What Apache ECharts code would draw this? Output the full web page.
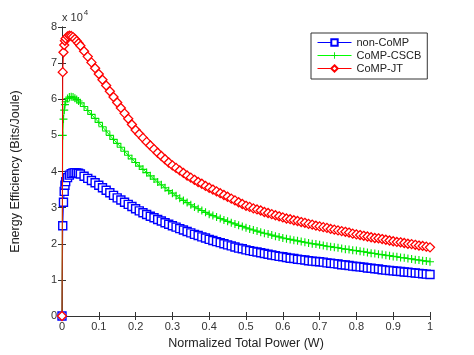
<!DOCTYPE html>
<html>
<head>
<meta charset="utf-8">
<script src="https://cdn.jsdelivr.net/npm/echarts@6/dist/echarts.min.js"></script>
<style>html,body{margin:0;padding:0;background:#fff;}#c{width:474px;height:355px;}</style>
</head>
<body>
<div id="c"></div>
<script>
const xValues = [0, 0.002, 0.004, 0.006, 0.008, 0.01, 0.015, 0.02, 0.025, 0.03, 0.035, 0.04, 0.045,
  0.05, 0.06, 0.07, 0.08, 0.09, 0.10, 0.11, 0.12, 0.13, 0.14, 0.15, 0.16, 0.17, 0.18, 0.19,
  0.20, 0.21, 0.22, 0.23, 0.24, 0.25, 0.26, 0.27, 0.28, 0.29, 0.30, 0.31, 0.32, 0.33, 0.34, 0.35, 0.36, 0.37, 0.38, 0.39,
  0.40, 0.41, 0.42, 0.43, 0.44, 0.45, 0.46, 0.47, 0.48, 0.49, 0.50, 0.51, 0.52, 0.53, 0.54, 0.55, 0.56, 0.57, 0.58, 0.59,
  0.60, 0.61, 0.62, 0.63, 0.64, 0.65, 0.66, 0.67, 0.68, 0.69, 0.70, 0.71, 0.72, 0.73, 0.74, 0.75, 0.76, 0.77, 0.78, 0.79,
  0.80, 0.81, 0.82, 0.83, 0.84, 0.85, 0.86, 0.87, 0.88, 0.89, 0.90, 0.91, 0.92, 0.93, 0.94, 0.95, 0.96, 0.97, 0.98, 0.99, 1.00];

const nonCoMP = [0, 2.5, 3.15, 3.45, 3.62, 3.72, 3.83, 3.9, 3.94, 3.96, 3.97, 3.96, 3.95,
  3.93, 3.87, 3.81, 3.75, 3.69, 3.62, 3.55, 3.48, 3.41, 3.34, 3.27, 3.21, 3.15, 3.09, 3.03,
  2.97, 2.91, 2.86, 2.81, 2.76, 2.72, 2.67, 2.63, 2.58, 2.54, 2.50, 2.46, 2.42, 2.38, 2.34, 2.30, 2.26, 2.23, 2.19, 2.16,
  2.12, 2.09, 2.06, 2.03, 2.00, 1.97, 1.94, 1.91, 1.88, 1.86, 1.83, 1.81, 1.79, 1.77, 1.75, 1.73, 1.71, 1.69, 1.67, 1.65,
  1.64, 1.62, 1.60, 1.59, 1.57, 1.56, 1.55, 1.53, 1.52, 1.51, 1.50, 1.49, 1.47, 1.46, 1.45, 1.44, 1.42, 1.41, 1.40, 1.38,
  1.37, 1.36, 1.35, 1.33, 1.32, 1.31, 1.30, 1.28, 1.27, 1.26, 1.25, 1.24, 1.23, 1.22, 1.21, 1.20, 1.19, 1.18, 1.17, 1.16, 1.15];

const coMPCSCB = [0, 5.0, 5.45, 5.7, 5.85, 5.93, 6.02, 6.06, 6.07, 6.06, 6.03, 5.99, 5.95,
  5.90, 5.80, 5.69, 5.58, 5.47, 5.36, 5.24, 5.12, 5.00, 4.89, 4.78, 4.67, 4.56, 4.45, 4.35,
  4.25, 4.15, 4.06, 3.97, 3.88, 3.79, 3.71, 3.63, 3.55, 3.47, 3.40, 3.33, 3.26, 3.20, 3.14, 3.08, 3.02, 2.97, 2.92, 2.87,
  2.82, 2.78, 2.74, 2.70, 2.66, 2.62, 2.58, 2.55, 2.51, 2.48, 2.44, 2.41, 2.38, 2.35, 2.32, 2.29, 2.27, 2.24, 2.21, 2.19,
  2.16, 2.14, 2.12, 2.10, 2.08, 2.06, 2.04, 2.02, 2.00, 1.99, 1.97, 1.95, 1.93, 1.92, 1.90, 1.89, 1.87, 1.85, 1.84, 1.82,
  1.81, 1.79, 1.78, 1.76, 1.74, 1.73, 1.71, 1.70, 1.68, 1.67, 1.65, 1.64, 1.62, 1.61, 1.59, 1.58, 1.56, 1.55, 1.53, 1.52, 1.50];

const coMPJT = [0, 6.75, 7.3, 7.5, 7.62, 7.68, 7.74, 7.76, 7.75, 7.72, 7.67, 7.61, 7.55,
  7.48, 7.33, 7.18, 7.02, 6.86, 6.70, 6.54, 6.38, 6.22, 6.06, 5.91, 5.76, 5.61, 5.46, 5.30,
  5.15, 5.04, 4.93, 4.82, 4.72, 4.62, 4.52, 4.43, 4.34, 4.25, 4.17, 4.10, 4.03, 3.96, 3.89, 3.83, 3.77, 3.71, 3.66, 3.60,
  3.55, 3.50, 3.45, 3.40, 3.35, 3.30, 3.25, 3.20, 3.15, 3.10, 3.05, 3.02, 2.98, 2.95, 2.92, 2.88, 2.85, 2.82, 2.79, 2.76,
  2.73, 2.70, 2.68, 2.65, 2.63, 2.60, 2.58, 2.55, 2.53, 2.50, 2.48, 2.46, 2.44, 2.41, 2.39, 2.37, 2.35, 2.33, 2.31, 2.28,
  2.26, 2.24, 2.22, 2.20, 2.18, 2.16, 2.15, 2.13, 2.11, 2.09, 2.07, 2.05, 2.04, 2.02, 2.00, 1.99, 1.97, 1.95, 1.94, 1.92, 1.90];

const seriesNames = ['non-CoMP', 'CoMP-CSCB', 'CoMP-JT'];
const xTickLabels = ['0', '0.1', '0.2', '0.3', '0.4', '0.5', '0.6', '0.7', '0.8', '0.9', '1'];
const yTickLabels = ['0', '1', '2', '3', '4', '5', '6', '7', '8'];

const zip = arr => xValues.map((x, i) => [x, arr[i]]);
const plusPath = 'path://M4.3,0H5.7V4.3H10V5.7H5.7V10H4.3V5.7H0V4.3H4.3Z';
const font = 'Liberation Sans, Arial, sans-serif';

const chart = echarts.init(document.getElementById('c'), null, {renderer: 'canvas'});
const axisCommon = {
  axisLine: {show: true, lineStyle: {color: '#333', width: 1}},
  axisTick: {show: true, inside: true, length: 4, lineStyle: {color: '#333'}},
  splitLine: {show: false}
};
chart.setOption({
  animation: false,
  backgroundColor: '#fff',
  grid: {left: 62, right: 44, top: 27, bottom: 39},
  legend: {
    orient: 'vertical', left: 311, top: 33,
    backgroundColor: '#fff',
    borderColor: '#333', borderWidth: 1,
    padding: [4, 6, 5, 6],
    itemGap: 2, itemWidth: 34, itemHeight: 8,
    lineStyle: {width: 1},
    textStyle: {fontFamily: font, fontSize: 11, color: '#222'},
    data: seriesNames
  },
  graphic: [{
    type: 'text', left: 62, top: 9,
    style: {
      text: '{a|x 10}{b|4}',
      rich: {
        a: {fontFamily: font, fontSize: 11, fill: '#333', verticalAlign: 'bottom'},
        b: {fontFamily: font, fontSize: 8, fill: '#333', verticalAlign: 'top', padding: [0, 0, 6, 1]}
      }
    }
  }],
  xAxis: [
    Object.assign({}, axisCommon, {
      type: 'value', min: 0, max: 1, interval: 0.1, position: 'bottom',
      name: 'Normalized Total Power (W)', nameLocation: 'middle', nameGap: 20,
      nameTextStyle: {fontFamily: font, fontSize: 12.5, color: '#222'},
      axisLabel: {fontFamily: font, fontSize: 11, color: '#333', margin: 5,
        formatter: (v) => xTickLabels[Math.round(v * 10)]}
    }),
    Object.assign({}, axisCommon, {
      type: 'value', min: 0, max: 1, interval: 0.1, position: 'top',
      axisLabel: {show: false}
    })
  ],
  yAxis: [
    Object.assign({}, axisCommon, {
      type: 'value', min: 0, max: 8, interval: 1, position: 'left',
      name: 'Energy Efficiency (Bits/Joule)', nameLocation: 'middle', nameGap: 40,
      nameTextStyle: {fontFamily: font, fontSize: 12.5, color: '#222'},
      axisLabel: {fontFamily: font, fontSize: 11, color: '#333', margin: 5,
        formatter: (v) => yTickLabels[Math.round(v)]}
    }),
    Object.assign({}, axisCommon, {
      type: 'value', min: 0, max: 8, interval: 1, position: 'right',
      axisLabel: {show: false}
    })
  ],
  series: [
    {name: seriesNames[0], type: 'line', data: zip(nonCoMP), symbol: 'rect', symbolSize: 8, showAllSymbol: true,
     lineStyle: {width: 1, color: '#0000ff'}, itemStyle: {color: '#ffffff', borderColor: '#0000ff', borderWidth: 1.4}, z: 2},
    {name: seriesNames[1], type: 'line', data: zip(coMPCSCB), symbol: plusPath, symbolSize: 8, showAllSymbol: true,
     lineStyle: {width: 1, color: '#00ff00'}, itemStyle: {color: '#00e600'}, z: 3},
    {name: seriesNames[2], type: 'line', data: zip(coMPJT), symbol: 'diamond', symbolSize: 9, showAllSymbol: true,
     lineStyle: {width: 1, color: '#ff0000'}, itemStyle: {color: '#ffffff', borderColor: '#ff0000', borderWidth: 1.3}, z: 4}
  ]
});
</script>
</body>
</html>
